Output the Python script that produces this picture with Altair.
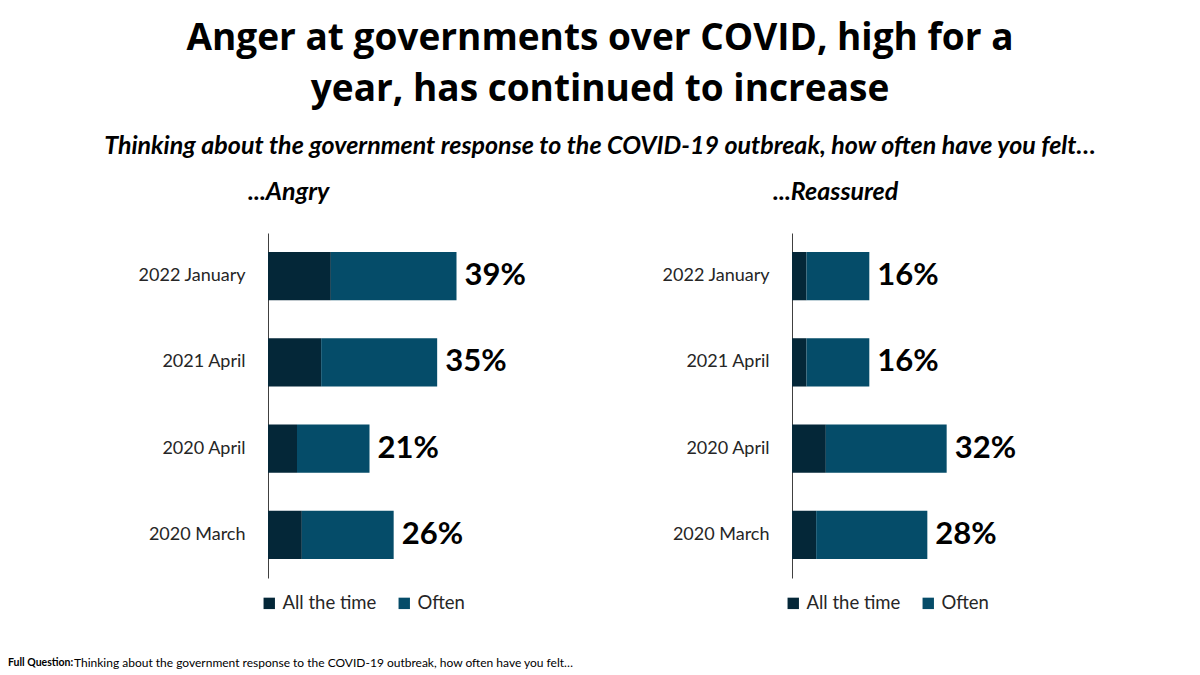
import altair as alt
import pandas as pd

periods = ["2022 January", "2021 April", "2020 April", "2020 March"]
responses = ["All the time", "Often"]
colors = ["#042738", "#054C69"]

angry_all = [13, 11, 6, 7]
angry_often = [26, 24, 15, 19]
angry_total = [39, 35, 21, 26]

reassured_all = [3, 3, 7, 5]
reassured_often = [13, 13, 25, 23]
reassured_total = [16, 16, 32, 28]

title_lines = ["Anger at governments over COVID, high for a", "year, has continued to increase"]
subtitle = "Thinking about the government response to the COVID-19 outbreak, how often have you felt\u2026"
footnote_bold = "Full Question:"
footnote_text = "Thinking about the government  response to the  COVID-19 outbreak, how often have you felt\u2026"

FONT = "Lato"
TITLE_FONT = "Open Sans"


def make_panel(all_vals, often_vals, totals, title, axis_extent, title_dx, with_footnote=False):
    bars_df = pd.DataFrame({
        "period": periods * 2,
        "response": [responses[0]] * 4 + [responses[1]] * 4,
        "value": all_vals + often_vals,
        "order": [0] * 4 + [1] * 4,
    })
    labels_df = pd.DataFrame({
        "period": periods,
        "total": totals,
        "label": [f"{t}%" for t in totals],
    })

    y = alt.Y(
        "period:N", sort=periods, title=None,
        scale=alt.Scale(paddingInner=0.44, paddingOuter=0.22),
        axis=alt.Axis(ticks=False, labelPadding=23, labelFontSize=18, labelFont=FONT,
                      labelColor="#262626", domainColor="#404040",
                      minExtent=axis_extent, maxExtent=axis_extent),
    )
    x_scale = alt.Scale(domain=[0, 60])

    bars = alt.Chart(bars_df).mark_bar().encode(
        x=alt.X("value:Q", stack="zero", scale=x_scale, axis=None),
        y=y,
        color=alt.Color(
            "response:N", title=None,
            scale=alt.Scale(domain=responses, range=colors),
            legend=alt.Legend(orient="none", legendX=-8, legendY=361, direction="horizontal",
                              symbolType="square", symbolSize=130, symbolStrokeWidth=0,
                              labelFontSize=18.5, labelFont=FONT, labelColor="#262626",
                              columnPadding=18),
        ),
        order=alt.Order("order:Q"),
    )

    text = alt.Chart(labels_df).mark_text(
        align="left", baseline="middle", dx=8, fontSize=31, fontWeight="bold", font=FONT, color="black"
    ).encode(
        x=alt.X("total:Q", scale=x_scale),
        y=alt.Y("period:N", sort=periods),
        text="label:N",
    )

    layers = [bars, text]
    if with_footnote:
        foot_df = pd.DataFrame({"bold": [footnote_bold], "text": [footnote_text]})
        layers.append(alt.Chart(foot_df).mark_text(
            align="left", baseline="middle", fontSize=10.5, fontWeight="bold", font=FONT, color="black"
        ).encode(x=alt.value(-260), y=alt.value(430), text="bold:N"))
        layers.append(alt.Chart(foot_df).mark_text(
            align="left", baseline="middle", fontSize=12, font=FONT, color="black"
        ).encode(x=alt.value(-194), y=alt.value(430), text="text:N"))

    return alt.layer(*layers).properties(
        width=290, height=345,
        title=alt.TitleParams(title, anchor="start", frame="group", dx=title_dx, offset=28,
                              fontSize=25, fontWeight="bold", fontStyle="italic", font=FONT, color="black"),
    )


left = make_panel(angry_all, angry_often, angry_total, "...Angry", 260, -20, with_footnote=True)
right = make_panel(reassured_all, reassured_often, reassured_total, "...Reassured", 130, -19)

chart = alt.hconcat(left, right, spacing=81).resolve_scale(
    color="independent", y="independent"
).properties(
    title=alt.TitleParams(
        title_lines, subtitle=subtitle, anchor="middle", dx=55, fontSize=37, lineHeight=51,
        font=TITLE_FONT, fontWeight="bold", color="black",
        subtitleFont=FONT, subtitleFontSize=25, subtitleFontStyle="italic",
        subtitleFontWeight="bold", subtitleColor="black", subtitlePadding=25, offset=20,
    ),
    padding={"top": 12, "left": 0, "right": 0, "bottom": 0},
).configure_view(stroke=None)

chart.save("out.html", embed_options={"renderer": "svg", "actions": False})
